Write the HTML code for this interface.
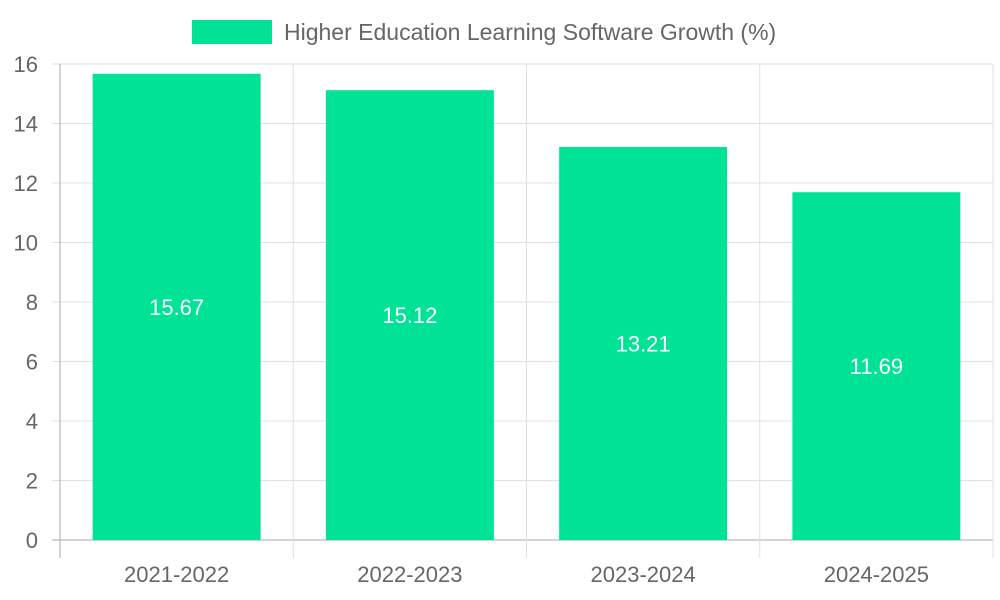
<!DOCTYPE html>
<html><head><meta charset="utf-8"><style>
body{margin:0;background:#fff;}
svg{display:block;font-family:"Liberation Sans",sans-serif;}
</style></head><body>
<svg id="chart" width="1000" height="600"></svg>
<script>
const categories=["2021-2022","2022-2023","2023-2024","2024-2025"];
const values=[15.67,15.12,13.21,11.69];
const yTicks=[0,2,4,6,8,10,12,14,16];
const seriesLabel="Higher Education Learning Software Growth (%)";

const svg=document.getElementById('chart');
const NS="http://www.w3.org/2000/svg";
const L=60,R=993,T=64,B=540,yMax=16;
const y=v=>B-(v/yMax)*(B-T);
const bw=(R-L)/categories.length;
const x=i=>L+bw*i;
function mk(tag,attrs,parent){const e=document.createElementNS(NS,tag);for(const k in attrs)e.setAttribute(k,attrs[k]);(parent||svg).appendChild(e);return e;}

// grid
const grid=mk('g',{});


yTicks.forEach(t=>{
  mk('line',{x1:L-8,x2:R,y1:y(t),y2:y(t),stroke:t===0?'#aaa':'#e0e0e0','stroke-width':1},grid);
  const tl=mk('text',{x:38,y:y(t)+8,'text-anchor':'end','font-size':22,fill:'#666'});
  tl.textContent=t;
  
  
});
for(let i=0;i<=categories.length;i++){
  mk('line',{x1:x(i),x2:x(i),y1:T,y2:B+18,stroke:(i===0)?'#aaa':'#e0e0e0','stroke-width':1},grid);
}
// bars
categories.forEach((c,i)=>{
  const cx=x(i)+bw/2, w=bw*0.72;
  const r=mk('rect',{x:cx-w/2,y:y(values[i]),width:w,height:B-y(values[i]),fill:'#00e396'});
  
  
  const v=mk('text',{x:cx,y:(y(values[i])+B)/2+8,'text-anchor':'middle','font-size':22,fill:'#fff'});
  v.textContent=values[i].toFixed(2);
  
  
  const xl=mk('text',{x:cx,y:582,'text-anchor':'middle','font-size':22,fill:'#666'});
  xl.textContent=c;
  
  
});
// legend
const lg=mk('g',{});


mk('rect',{x:192,y:20,width:80,height:24,fill:'#00e396'},lg);
const lt=mk('text',{x:284,y:40,'font-size':23,fill:'#666'},lg);
lt.textContent=seriesLabel;
</script>
</body></html>
